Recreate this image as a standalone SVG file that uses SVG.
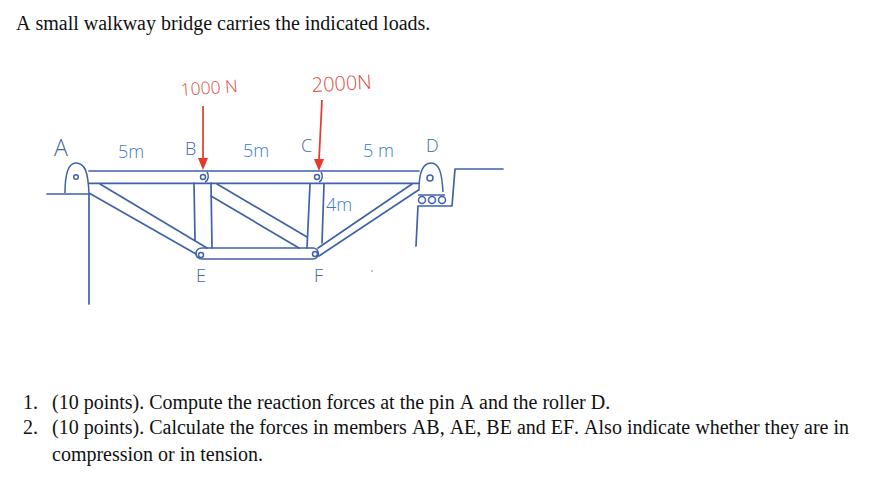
<svg xmlns="http://www.w3.org/2000/svg" width="881" height="491" viewBox="0 0 881 491">
<style>
.t{font-family:"Liberation Serif","Times New Roman",serif;font-size:20px;fill:#111;font-kerning:none}
.m{fill:none;stroke:#3f62a8;stroke-width:1.7;stroke-linecap:round;stroke-linejoin:round}
.f{fill:none;stroke:#3f62a8;stroke-width:1.5}
.h{font-family:"Open Sans","Liberation Sans",sans-serif;font-weight:300}
.r{fill:#dd4a3c;font-size:18px}
.b{fill:#3a7bd0;font-size:18px}
.n{fill:#46689f;font-size:18px}
.ar{stroke:#e5392b;stroke-width:1.7;fill:none}
.ah{fill:#e5392b}
</style>
<g id="heading"><text class="t" x="16" y="30">A small walkway bridge carries the indicated loads.</text></g>
<g id="connectors">
<path class="m" d="M89 171H419M89 183.300H419"/>
<path class="m" d="M100 184L207 248M89 193L196 254"/>
<path class="m" d="M194 183L195 240M211 183L212 248"/>
<path class="m" d="M217 184L307 237M211 196L299 248"/>
<path class="m" d="M310 184L307 248M324 184L322 243"/>
<path class="m" d="M318 248L412 184M319 256L420 189"/>
<path class="m" d="M202 248H313C320 248 320 259 313 259H202C194 259 194 248 202 248Z"/>
<path class="ar" d="M203 106V160"/>
<path class="ar" d="M322 100L319 160"/>
<path class="ah" d="M198 158H208L203 170Z"/>
<path class="ah" d="M314 159H324L319 171Z"/>
</g>
<g id="ground-left"><path class="m" d="M47 194H89V304"/></g>
<g id="ground-right"><path class="m" d="M418 206H452L455 169H503M418 206L416 246"/></g>
<g id="node-A"><path class="f" style="fill:#fff" d="M65 193C65 172 69 163 76 163C85 163 88 172 89 193"/><circle class="f" cx="76" cy="177" r="2.300"/><text class="h n" x="54" y="156" style="font-size:23px">A</text></g>
<g id="node-B"><circle class="f" cx="203" cy="177" r="2.500"/><path class="f" d="M207 172C209 175 209 180 205 182"/><text class="h n" x="185" y="155">B</text></g>
<g id="node-C"><circle class="f" cx="317" cy="177" r="2.500"/><path class="f" d="M321 172C323 175 323 180 319 182"/><text class="h n" x="301" y="152">C</text></g>
<g id="node-D"><path class="f" style="fill:#fff" d="M419 190C419 172 423 163 431 163C440 163 442 175 443 192"/><circle class="f" cx="430" cy="178" r="3"/><circle class="f" cx="422" cy="200" r="3.500"/><circle class="f" cx="432" cy="200" r="3.500"/><circle class="f" cx="442" cy="200" r="3.500"/><path class="f" d="M418 195H445"/><text class="h n" x="426" y="152">D</text></g>
<g id="node-E"><circle class="f" cx="201" cy="255" r="2.500"/><text class="h n" x="196" y="282">E</text></g>
<g id="node-F"><circle class="f" cx="315" cy="254" r="2.500"/><text class="h n" x="314" y="282">F</text></g>
<g id="labels">
<text class="h r" transform="translate(181 96) rotate(-4)" style="font-size:17.500px">1000 N</text>
<text class="h r" transform="translate(312 92) rotate(-3)" style="font-size:20px">2000N</text>
<text class="h b" x="118" y="158">5m</text>
<text class="h b" x="243" y="157">5m</text>
<text class="h b" x="363" y="157">5 m</text>
<text class="h b" x="326" y="211">4m</text>
<circle cx="372" cy="271" r="0.800" fill="#777"/>
</g>
<g id="questions">
<text class="t" x="23" y="409">1.</text><text class="t" x="52" y="409">(10 points). Compute the reaction forces at the pin A and the roller D.</text>
<text class="t" x="23" y="434">2.</text><text class="t" x="52" y="434">(10 points). Calculate the forces in members AB, AE, BE and EF. Also indicate whether they are in</text>
<text class="t" x="52" y="461">compression or in tension.</text>
</g>
</svg>
